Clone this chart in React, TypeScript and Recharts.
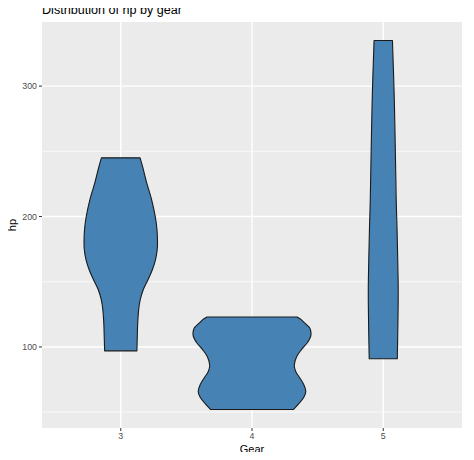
import React from 'react'
import { ScatterChart, Scatter, XAxis, YAxis, CartesianGrid } from 'recharts'

// gear levels on the x axis
const gears = [3, 4, 5]
const hpTicks = [100, 200, 300]
const hpMinorTicks = [50, 150, 250]

// violin outlines: hp level -> half width (in gear units)
const gear3Hp = [97, 108, 118, 128, 136, 144, 151, 159, 167, 174, 180, 190, 200, 213, 225, 238, 245]
const gear3Width = [0.123, 0.126, 0.129, 0.136, 0.148, 0.172, 0.205, 0.24, 0.265, 0.277, 0.28, 0.276, 0.263, 0.235, 0.2, 0.167, 0.147]

const gear4Hp = [52, 57, 61.5, 66, 71, 76, 81, 86, 92.5, 98, 103, 107, 110.5, 114.5, 118, 121, 123]
const gear4Width = [0.315, 0.36, 0.395, 0.41, 0.395, 0.366, 0.334, 0.322, 0.34, 0.377, 0.42, 0.443, 0.45, 0.44, 0.405, 0.375, 0.344]

const gear5Hp = [91, 107, 127, 139, 153, 191, 212, 262, 298, 335]
const gear5Width = [0.107, 0.11, 0.113, 0.114, 0.113, 0.105, 0.099, 0.09, 0.082, 0.07]

function outline(gear: number, hp: number[], width: number[]) {
  const right = hp.map((h, i) => ({ x: gear + width[i], y: h }))
  const left = hp.map((h, i) => ({ x: gear - width[i], y: h })).reverse()
  return [...right, ...left]
}

const violins = [
  outline(3, gear3Hp, gear3Width),
  outline(4, gear4Hp, gear4Width),
  outline(5, gear5Hp, gear5Width),
]

type Pt = { x: number; y: number }

// smooth path through pixel points (catmull-rom)
function smooth(p: Pt[]) {
  let d = ''
  for (let i = 0; i < p.length - 1; i++) {
    const p0 = p[i - 1] || p[i]
    const p1 = p[i]
    const p2 = p[i + 1]
    const p3 = p[i + 2] || p2
    const c1x = p1.x + (p2.x - p0.x) / 6
    const c1y = p1.y + (p2.y - p0.y) / 6
    const c2x = p2.x - (p3.x - p1.x) / 6
    const c2y = p2.y - (p3.y - p1.y) / 6
    d += `C${c1x},${c1y} ${c2x},${c2y} ${p2.x},${p2.y}`
  }
  return d
}

const ViolinLine = (props: any) => {
  const pts: Pt[] = props.points || []
  if (!pts.length) return null
  const n = pts.length / 2
  const right = pts.slice(0, n)
  const left = pts.slice(n)
  const d = `M${right[0].x},${right[0].y}` + smooth(right) + `L${left[0].x},${left[0].y}` + smooth(left) + 'Z'
  return <path d={d} fill="#4682B4" stroke="#1A1A1A" strokeWidth={1.1} strokeLinejoin="round" />
}

const font = '"Liberation Sans", Arial, sans-serif'

const App = () => {
  return (
    <div style={{ margin: -8, width: 474, height: 460, fontFamily: font }}>
      <ScatterChart width={474} height={460} margin={{ top: 22, right: 12, bottom: 0, left: 0 }}>
        <CartesianGrid fill="#EBEBEB" stroke="#FFFFFF" strokeWidth={0.7} horizontalValues={hpMinorTicks} vertical={false} />
        <CartesianGrid stroke="#FFFFFF" strokeWidth={1.4} horizontalValues={hpTicks} verticalValues={gears} />
        <XAxis
          type="number"
          dataKey="x"
          domain={[2.4, 5.6]}
          ticks={gears}
          allowDataOverflow
          height={32}
          axisLine={false}
          tickSize={3}
          tickMargin={2}
          tickLine={{ stroke: '#333333' }}
          tick={{ fill: '#4D4D4D', fontSize: 8.8, fontFamily: font }}
        />
        <YAxis
          type="number"
          dataKey="y"
          domain={[37.85, 349.15]}
          ticks={hpTicks}
          allowDataOverflow
          width={42}
          axisLine={false}
          tickSize={3}
          tickMargin={2}
          tickLine={{ stroke: '#333333' }}
          tick={{ fill: '#4D4D4D', fontSize: 8.8, fontFamily: font }}
        />
        {violins.map((v, i) => (
          <Scatter
            key={i}
            data={v}
            isAnimationActive={false}
            line={ViolinLine}
            shape={() => <g />}
          />
        ))}
        <text x={42} y={13.8} fontSize={12.6} fill="#000" fontFamily={font}>
          Distribution of hp by gear
        </text>
        <text x={16} y={225} fontSize={11} fill="#000" fontFamily={font} textAnchor="middle" transform="rotate(-90 16 225)">
          hp
        </text>
        <text x={252} y={453.3} fontSize={11} fill="#000" fontFamily={font} textAnchor="middle">
          Gear
        </text>
      </ScatterChart>
    </div>
  )
}

export default App
